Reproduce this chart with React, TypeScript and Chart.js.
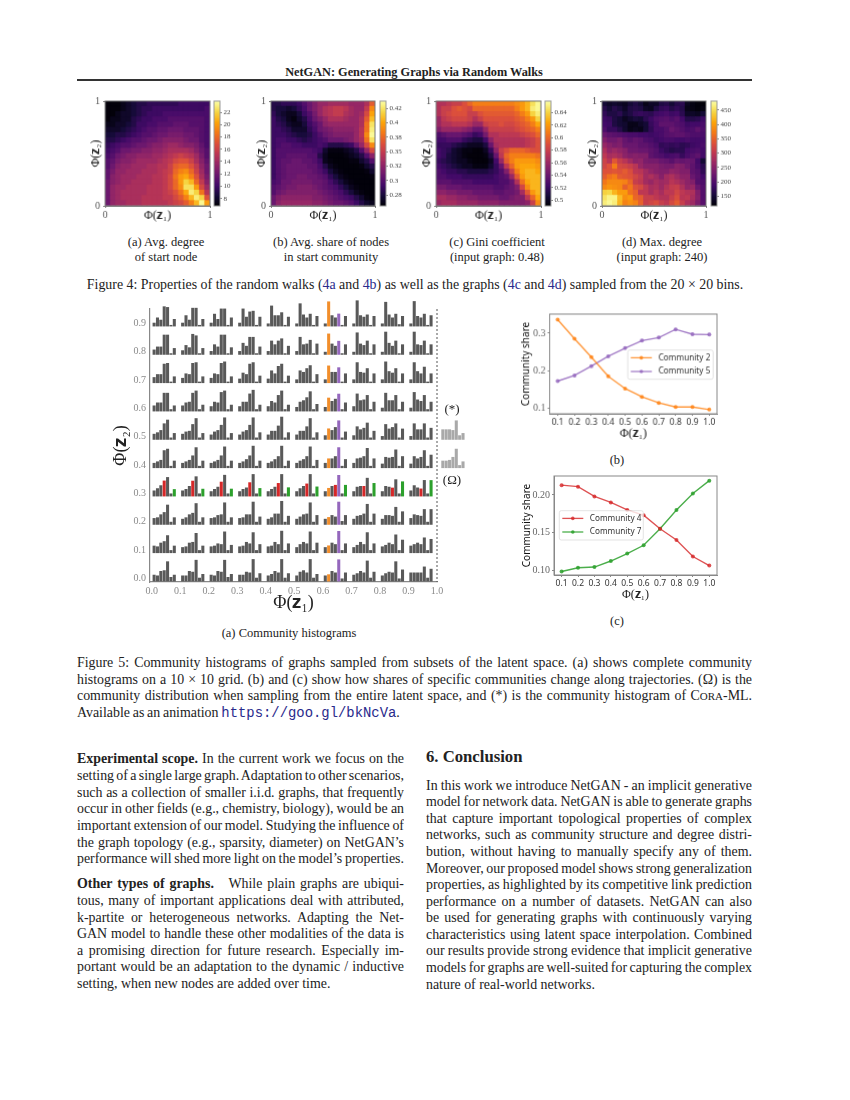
import React, { useEffect, useRef } from "react";
import { Chart, registerables } from "chart.js";

Chart.register(...registerables);

/* ---------- data ---------- */

const avgDegreeRows = [
  [7,7,7,7.5,8,8.5,9,9,9.5,9.5,9.5,9.5,9.5,9.5,10,10,10,10,10,10],
  [7,7,7,7.5,8,8.5,9,9.5,9.5,10,10,10,10,10,10,10,10,10,10,10.5],
  [7,7,7.5,8,8,8.5,9,9.5,10,10,10,10.5,10.5,10.5,10.5,10.5,10.5,10.5,10.5,10.5],
  [7,7.5,7.5,8,8,9,9.5,10,10,10.5,10.5,10.5,11,11,11,11,11,11,11,10.5],
  [7.5,7.5,8,8,8.5,9,10,10,10.5,10.5,11,11,11,11.5,11.5,11.5,11,11,11,10.5],
  [8,8,8,8.5,9,9.5,10,10.5,11,11,11.5,11.5,12,12,12,11.5,11.5,11.5,11,10.5],
  [8.5,8.5,9,9,9.5,10,10.5,11,11,11.5,12,12,12.5,12.5,12.5,12,12,11.5,11,10.5],
  [9,9,9.5,10,10.5,11,11,11.5,12,12,12.5,13,13,13,13,12.5,12,12,11,10.5],
  [9.5,10,10.5,11,11,11.5,12,12,12.5,13,13,13.5,14,14,13.5,13,13,12.5,11.5,10.5],
  [10,10.5,11,12,12,12.5,12.5,13,13,13.5,13.5,14,14.5,14.5,14.5,14.5,14,13,12,11],
  [10.5,11,12,12.5,13,13,13.5,13.5,13.5,14,14,14.5,15,15.5,16,15.5,15,14,12.5,11],
  [11,11.5,12.5,13,13,13.5,14,14,14,14,14.5,15,15.5,16.5,17,17,16,14.5,13,11.5],
  [11,12,13,13.5,13.5,14,14,14,14.5,14.5,15,15,16,17.5,18,18,17,15.5,13.5,12],
  [11.5,12.5,13.5,13.5,14,14,14,14.5,14.5,14.5,15,15.5,16,18,19,19.5,18,16,14,12],
  [11.5,13,13.5,14,14,14,14.5,14.5,14.5,15,15,15.5,16.5,18.5,20,20.5,19,17,14.5,12.5],
  [12,13,13.5,14,14,14.5,14.5,14.5,14.5,15,15,15.5,16.5,18,20,22,21,18,15.5,13],
  [12,13.5,14,14,14.5,14.5,14.5,14.5,15,15,15,15.5,16.5,18,19.5,22.5,22.5,20,16.5,14],
  [12,13.5,14,14.5,14.5,14.5,14.5,14.5,15,15,15,15.5,16,17,18.5,20.5,23,22,18.5,15],
  [12,13.5,14,14.5,14.5,14.5,14.5,15,15,15,15,15.5,15.5,16.5,17.5,19,21,23,22,17],
  [12,13.5,14,14,14.5,14.5,14.5,15,15,15,15,15,15.5,16,16.5,17.5,19,21,23.5,20],
];

const startShareRows = [
  [28,28,28.5,28.5,28.5,29,30,31,32,33,33,33.5,33.5,33.5,33.5,33,33,33,34,37],
  [28,27.5,27.5,27,27.5,28.5,29.5,31,32,33,34,34.5,35,35,34.5,33.5,33,33,35,39],
  [28.5,27.5,27,26.5,26.5,27.5,29,30,31.5,33,34,34.5,35,35,34,33.5,33,33.5,36,40],
  [29,28,27.5,26.5,26,27,28,29.5,31,32,33,34,34,34,33.5,33,33,34,37,41],
  [29,28.5,28,27,26.5,26.5,27.5,29,30,31,32.5,33,33,33,33,33,33,34,38,42.5],
  [29,29,28.5,28,27,27,27,28.5,29.5,31,31.5,32,32.5,32.5,32.5,32.5,33,34.5,38,43],
  [29,29,29,28.5,28,27.5,27.5,28,29,30,31,31.5,32,32,32,32,33,34.5,39,43.5],
  [29,29.5,29.5,29,29,28.5,28,28.5,29,29.5,30,31,31,31,31.5,32,33,34,38,42.5],
  [29,29.5,30,30,29.5,29.5,29,29,29,29.5,29,28,28,28,28.5,29,31,33,36,39],
  [29,30,30,30,30,30,30,30,29.5,29,27,26,26,26,26.5,27,28,30,33,36],
  [29,30,30,30.5,30.5,30.5,30.5,30,30,28,26.5,25.8,25.8,25.8,26,26.5,27,28,30,32.5],
  [29,30,30.5,30.5,31,31,30.5,30.5,30,29,26.5,26,25.8,25.8,25.8,26,26,27,28,30],
  [29,30,30.5,31,31,31,31,30.5,30.5,29.5,28,26.5,26,25.8,25.8,25.8,25.8,26,27,28],
  [29,30,30.5,31,31,31,31,31,30.5,30,29,27.5,26.5,26,25.8,25.8,25.8,25.8,26,27],
  [29,30,30.5,31,31,31.5,31.5,31,31,30.5,30,28.5,27.5,26.5,26,25.8,25.8,25.8,25.8,26],
  [29.5,30,31,31,31.5,31.5,31.5,31.5,31,31,30.5,29.5,28.5,27.5,26.5,26,25.8,25.8,25.8,25.8],
  [30,30.5,31,31.5,31.5,32,32,32,31.5,31,30.5,30,29.5,28.5,27.5,26.5,26,25.8,25.8,25.8],
  [30,31,31.5,32,32,32,32,32,32,31.5,31,30.5,30,29.5,28.5,27.5,26.5,26,25.8,25.8],
  [31,32,32.5,32.5,32.5,32.5,32.5,32.5,32,32,31.5,31,30.5,30,29.5,29,28,27,26,25.8],
  [31,32.5,33,33,33,33,33,33,32.5,32.5,32,31.5,31,31,30.5,30,29,28,27,26.5],
];

const giniRows = [
  [57,57,57.5,58,58,59,60,61,61,61,61,61,61,61,61,61.5,62,63,64.5,65.5],
  [57,58,58,59,59.5,59,58.5,60,60,60,60,60,60,60,60,61,62,63,65,65.5],
  [57,58,58.5,59,59,59,58,58,59,59.5,59.5,59.5,59.5,59.5,59.5,60,61,62,64,65],
  [56,57.5,58,58.5,58.5,58.5,58,57,58,59,59,59,59,59,59,59.5,60,61,62,64],
  [56,57,57,57.5,57.5,57.5,57,56,56,58,58.5,58.5,59,58.5,58.5,59,59.5,60,61,62.5],
  [55,56,56,56,56,55.5,55,54,54,56,58,58,58,58,58,58.5,59,59.5,60,61],
  [53,53.5,54,54,54,53.5,53,52,52.5,54.5,57,57,57.5,57.5,57.5,57.5,58,58.5,59,60],
  [52.5,52.5,53,53,53,52,51.5,51,51,52.5,55.5,57,57,57,57,57,57,57.5,58,59],
  [52,52,52,51.5,51,50.5,50,50,50,51,54,56.5,57,57,57,57,57,57.5,58,59],
  [52.5,52,51.5,50.5,50,49.5,49.5,49.3,49.3,50,52,55.5,58,59,60,60,60,59.5,59,59],
  [52.5,52,51,50.5,50,49.5,49.3,49.3,49.3,49.5,51,54,57.5,60,61,61,61,61,61,60.5],
  [52,51.5,51,50.5,50,50,49.5,49.3,49.3,49.3,50,52.5,56,59.5,61,62,62,62,62,61.5],
  [52.5,52,51.5,51,50.5,50,50,49.5,49.5,49.5,50.5,52,54,57.5,60,62,62.5,62.5,62.5,62],
  [53,52.5,52,52,51.5,51.5,51,51,51,51,51.5,52,53,55,58,61,62.5,63,63,62.5],
  [53,53,52.5,52.5,52.5,52,52,52,52,52,52,52.5,53,53.5,56,59.5,62,63,63,63],
  [53.5,53.5,53.5,53,53,53,53,52.5,52.5,52.5,52.5,52.5,53,53,54,57,60.5,62.5,63,63],
  [54.5,54.5,54,54,54,53.5,53.5,53.5,53.5,53.5,53.5,53,53,53.5,54,55,58.5,61.5,63,63],
  [55.5,55.5,55,55,54.5,54.5,54.5,54,54,54,54,53.5,53.5,54,54,54.5,56.5,59.5,62,63],
  [56.5,56.5,56,56,55.5,55.5,55,55,54.5,54.5,54.5,54.5,54,54,54.5,55,55,57.5,60,62.5],
  [56,56.5,56.5,56.5,56,56,56,56,55.5,55.5,55.5,55.5,55,55,55,55,55,55.5,58,61.5],
];

const maxDegreeRows = [
  [150,140,145,140,135,150,160,150,130,140,140,160,165,150,165,170,135,125,120,120],
  [165,150,165,155,140,160,165,160,140,135,160,175,180,165,175,165,130,125,120,125],
  [175,160,160,170,150,160,175,180,175,170,185,190,195,185,190,170,140,140,135,150],
  [185,180,160,150,135,145,155,150,170,185,200,205,210,200,210,190,165,165,170,185],
  [190,185,160,150,145,130,130,140,150,180,195,215,215,215,205,200,185,190,190,195],
  [200,180,180,165,145,130,135,130,150,175,195,195,205,225,215,205,195,200,215,200],
  [225,215,210,205,200,195,195,190,190,185,190,195,205,210,215,215,205,200,200,195],
  [245,230,230,240,220,210,220,215,200,195,185,190,195,195,190,190,195,190,190,190],
  [265,250,240,245,225,225,225,215,215,205,195,175,180,175,180,170,175,185,190,195],
  [285,260,270,260,250,230,230,225,225,215,205,185,175,165,170,170,190,195,200,190],
  [300,280,285,275,255,245,250,245,245,215,205,200,190,195,200,180,195,205,215,190],
  [315,295,340,310,295,275,255,260,240,235,235,225,220,210,225,220,225,220,190,150],
  [320,335,375,325,320,310,295,265,250,250,250,240,235,235,250,245,230,215,195,170],
  [335,335,340,335,345,330,300,295,275,260,250,245,245,260,255,245,245,215,205,175],
  [345,365,375,345,340,335,320,305,275,285,270,250,275,285,270,255,255,225,210,190],
  [370,385,385,385,380,355,310,300,275,265,280,270,275,295,285,270,255,245,205,200],
  [385,395,390,385,350,370,335,325,300,280,285,270,290,305,310,285,260,265,225,205],
  [440,445,420,400,400,365,350,300,300,280,295,280,300,300,320,300,290,285,245,205],
  [455,470,470,425,390,400,355,345,310,310,300,290,290,310,330,295,300,280,250,205],
  [465,475,465,420,380,390,380,350,310,320,330,310,300,325,345,310,285,270,240,210],
];

const degreeTicks = [8, 10, 12, 14, 16, 18, 20, 22];
const shareTicks = [0.275, 0.3, 0.325, 0.35, 0.375, 0.4, 0.425];
const shareTickLabels = ["0.28", "0.3", "0.32", "0.35", "0.38", "0.4", "0.42"];
const giniTicks = [0.5, 0.52, 0.54, 0.56, 0.58, 0.6, 0.62, 0.64];
const giniTickLabels = ["0.5", "0.52", "0.54", "0.56", "0.58", "0.6", "0.62", "0.64"];
const maxDegreeTicks = [150, 200, 250, 300, 350, 400, 450];

// rows from z2 = 0.9 down to z2 = 0.0; each row holds ten 7-community histograms
const histogramRowLabels = [0.9, 0.8, 0.7, 0.6, 0.5, 0.4, 0.3, 0.2, 0.1, 0.0];
const histogramRows = [
  [[.05,.12,.09,.27,.26,.02,.10],[.05,.15,.09,.25,.25,.02,.10],[.05,.17,.10,.24,.24,.02,.12],[.05,.24,.13,.20,.21,.02,.13],[.04,.28,.15,.15,.19,.02,.13],[.04,.31,.16,.12,.17,.02,.14],[.04,.336,.15,.12,.172,.02,.14],[.04,.35,.15,.13,.16,.02,.14],[.04,.33,.16,.12,.17,.03,.14],[.04,.34,.14,.12,.17,.02,.15]],
  [[.07,.11,.11,.27,.27,.02,.09],[.06,.13,.10,.28,.26,.02,.09],[.05,.14,.11,.27,.27,.02,.10],[.05,.16,.12,.24,.24,.02,.11],[.05,.19,.14,.19,.22,.02,.12],[.05,.24,.14,.15,.20,.02,.15],[.04,.285,.15,.12,.187,.02,.14],[.04,.30,.15,.13,.19,.02,.14],[.04,.31,.16,.12,.19,.02,.14],[.04,.31,.14,.13,.19,.02,.14]],
  [[.08,.12,.12,.26,.27,.02,.09],[.07,.13,.12,.27,.28,.02,.09],[.07,.13,.12,.27,.29,.02,.09],[.06,.14,.12,.26,.28,.02,.10],[.06,.17,.13,.23,.26,.02,.10],[.05,.17,.15,.20,.24,.02,.12],[.05,.236,.15,.15,.212,.02,.13],[.05,.28,.15,.14,.20,.02,.13],[.05,.29,.16,.14,.20,.02,.13],[.05,.28,.16,.13,.22,.02,.13]],
  [[.08,.12,.12,.25,.25,.03,.08],[.08,.12,.13,.25,.28,.03,.09],[.07,.13,.12,.26,.28,.03,.09],[.07,.13,.13,.24,.29,.03,.09],[.07,.14,.12,.22,.28,.03,.09],[.06,.13,.15,.19,.27,.03,.10],[.06,.185,.14,.17,.238,.03,.12],[.07,.24,.15,.16,.22,.03,.13],[.05,.25,.15,.15,.22,.03,.13],[.05,.26,.16,.14,.22,.03,.13]],
  [[.08,.10,.13,.22,.27,.03,.09],[.08,.11,.12,.21,.29,.03,.09],[.07,.11,.13,.20,.30,.03,.09],[.07,.11,.13,.20,.30,.03,.10],[.07,.12,.12,.19,.31,.03,.10],[.07,.12,.12,.18,.29,.03,.10],[.06,.152,.13,.17,.26,.03,.11],[.06,.18,.14,.16,.23,.03,.12],[.05,.21,.15,.17,.22,.03,.15],[.05,.22,.14,.14,.22,.03,.16]],
  [[.07,.09,.11,.24,.26,.03,.10],[.07,.09,.11,.17,.28,.03,.10],[.07,.09,.11,.17,.29,.03,.10],[.07,.09,.12,.17,.30,.03,.10],[.07,.09,.12,.16,.30,.03,.10],[.07,.10,.12,.16,.29,.03,.11],[.07,.13,.13,.16,.28,.03,.12],[.07,.13,.14,.16,.27,.03,.13],[.06,.15,.14,.15,.25,.03,.16],[.06,.16,.13,.15,.24,.03,.18]],
  [[.08,.11,.15,.213,.26,.04,.098],[.08,.10,.14,.211,.27,.04,.103],[.07,.10,.13,.198,.29,.04,.104],[.07,.10,.12,.19,.30,.04,.112],[.07,.10,.13,.18,.30,.04,.122],[.07,.11,.14,.173,.30,.04,.133],[.07,.114,.14,.155,.288,.04,.155],[.07,.13,.14,.14,.25,.04,.18],[.07,.14,.13,.118,.23,.04,.202],[.08,.15,.12,.106,.22,.04,.219]],
  [[.09,.10,.14,.17,.27,.04,.10],[.08,.10,.14,.16,.29,.04,.10],[.09,.10,.13,.14,.30,.04,.10],[.09,.10,.14,.14,.31,.04,.11],[.08,.10,.15,.15,.32,.04,.12],[.08,.11,.14,.15,.30,.04,.13],[.08,.103,.13,.11,.31,.05,.13],[.08,.12,.13,.15,.28,.04,.15],[.08,.13,.13,.12,.24,.04,.18],[.09,.14,.13,.12,.21,.04,.21]],
  [[.10,.09,.14,.16,.24,.04,.10],[.08,.09,.14,.15,.27,.04,.10],[.09,.10,.13,.12,.29,.04,.11],[.09,.10,.15,.13,.28,.04,.12],[.09,.10,.15,.12,.30,.04,.13],[.08,.12,.15,.13,.29,.04,.14],[.08,.103,.14,.12,.297,.04,.13],[.08,.11,.15,.12,.28,.04,.13],[.09,.11,.14,.12,.25,.04,.18],[.10,.12,.14,.12,.21,.04,.19]],
  [[.09,.08,.14,.15,.27,.06,.09],[.08,.08,.14,.13,.29,.05,.10],[.09,.08,.14,.13,.29,.06,.10],[.09,.09,.13,.12,.30,.05,.11],[.08,.10,.14,.12,.30,.05,.11],[.08,.13,.15,.12,.30,.05,.10],[.08,.096,.14,.12,.296,.04,.12],[.09,.11,.14,.12,.28,.05,.13],[.08,.11,.13,.12,.27,.04,.16],[.12,.12,.12,.12,.20,.05,.17]],
];
const coraHistogram = [.14, .14, .14, .13, .26, .06, .09];
const latentHistogram = [.10, .10, .11, .15, .26, .04, .09];
const histogramTicks = [0, 0.1, 0.2, 0.3, 0.4, 0.5, 0.6, 0.7, 0.8, 0.9, 1.0];

const trajectory = [0.1, 0.2, 0.3, 0.4, 0.5, 0.6, 0.7, 0.8, 0.9, 1.0];
const community2 = [.336, .285, .236, .185, .152, .13, .114, .103, .103, .096];
const community5 = [.172, .187, .212, .238, .26, .28, .288, .31, .297, .296];
const community4 = [.213, .211, .198, .19, .18, .173, .155, .14, .118, .106];
const community7 = [.098, .103, .104, .112, .122, .133, .155, .18, .202, .219];

/* ---------- styling ---------- */

const SERIF = '"Liberation Serif", "DejaVu Serif", serif';
const SANS = '"Noto Sans", "DejaVu Sans", sans-serif';
const INK = "#222";
const SPINE = "#777";
const INFERNO = ["#000004","#160b39","#420a68","#6a176e","#932667","#bc3754","#dd513a","#f37819","#fca50a","#f6d746","#fcffa4"];
const Z1 = "Φ(𝐳₁)";
const Z2 = "Φ(𝐳₂)";

function inferno(t: number) {
  const c = Math.max(0, Math.min(1, t)) * (INFERNO.length - 1);
  const i = Math.min(INFERNO.length - 2, Math.floor(c));
  const f = c - i;
  const p = (h: string, s: number) => parseInt(h.slice(s, s + 2), 16);
  const mix = (s: number) => Math.round(p(INFERNO[i], s) * (1 - f) + p(INFERNO[i + 1], s) * f);
  return `rgb(${mix(1)},${mix(3)},${mix(5)})`;
}

/* ---------- helpers ---------- */

const fixedSize = (size: number) => (s: any) => {
  if (s.isHorizontal()) s.height = size;
  else s.width = size;
  s.paddingLeft = s.paddingRight = s.paddingTop = s.paddingBottom = 0;
};
const fixedTicks = (values: number[]) => (s: any) => {
  s.ticks = values.map((value) => ({ value }));
};
const frame = (color: string) => ({
  id: "frame",
  afterDatasetsDraw(chart: any) {
    const { left, top, width, height } = chart.chartArea;
    const ctx = chart.ctx;
    ctx.save();
    ctx.strokeStyle = color;
    ctx.lineWidth = 1;
    ctx.strokeRect(left, top, width, height);
    ctx.restore();
  },
});

type Rect = { l: number; t: number; r: number; b: number };
const PAD = 8;

function Panel({ area, margin, build }: { area: Rect; margin: Rect; build: () => any }) {
  const ref = useRef<HTMLCanvasElement>(null);
  const left = area.l - margin.l - PAD;
  const top = area.t - margin.t - PAD;
  const width = area.r - area.l + margin.l + margin.r + 2 * PAD;
  const height = area.b - area.t + margin.t + margin.b + 2 * PAD;
  useEffect(() => {
    const cfg = build();
    cfg.options = {
      animation: false,
      responsive: false,
      maintainAspectRatio: false,
      events: [],
      ...cfg.options,
      layout: {
        padding: {
          left: PAD + (cfg.noLeftAxis ? margin.l : 0),
          right: PAD + margin.r * (cfg.hasRightAxis ? 0 : 1),
          top: PAD + margin.t,
          bottom: PAD + (cfg.noBottomAxis ? margin.b : 0),
        },
      },
    };
    const chart = new Chart(ref.current as any, cfg);
    return () => chart.destroy();
  }, []);
  return (
    <canvas
      ref={ref}
      width={width}
      height={height}
      style={{ position: "absolute", left, top, width, height }}
    />
  );
}

function heatmapConfig(rows: number[][], vmin: number, vmax: number, area: Rect, bottom: number, leftM: number) {
  const cell = (area.r - area.l) / rows[0].length;
  const n = rows.length;
  const data: any[] = [];
  const colors: string[] = [];
  rows.forEach((row, r) =>
    row.forEach((v, c) => {
      data.push({ x: (c + 0.5) / row.length, y: [1 - (r + 1) / n, 1 - r / n] });
      colors.push(inferno((v - vmin) / (vmax - vmin)));
    })
  );
  const tick = { color: "#555", font: { family: SERIF, size: 10 }, maxRotation: 0, autoSkip: false };
  const title = (text: string) => ({
    display: true,
    text,
    color: INK,
    padding: 0,
    font: { family: SERIF, size: 12, lineHeight: 1 },
  });
  return {
    type: "bar",
    plugins: [frame(SPINE)],
    data: { datasets: [{ data, backgroundColor: colors, barThickness: cell, borderWidth: 0, inflateAmount: 0.4 }] },
    options: {
      plugins: { legend: { display: false }, tooltip: { enabled: false } },
      scales: {
        x: {
          type: "linear", offset: false, min: 0, max: 1,
          grid: { drawOnChartArea: false, drawTicks: true, tickLength: 2, color: SPINE, offset: false },
          border: { color: SPINE },
          ticks: { ...tick, padding: 1, callback: (v: number) => String(v) },
          afterBuildTicks: fixedTicks([0, 1]),
          afterFit: fixedSize(bottom),
          title: title(Z1),
        },
        y: {
          min: 0, max: 1,
          grid: { drawOnChartArea: false, drawTicks: true, tickLength: 2, color: SPINE },
          border: { color: SPINE },
          ticks: { ...tick, padding: 3, callback: (v: number) => String(v) },
          afterBuildTicks: fixedTicks([0, 1]),
          afterFit: fixedSize(leftM),
          title: title(Z2),
        },
      },
    },
  };
}

function colorbarConfig(vmin: number, vmax: number, ticks: number[], labels: string[] | null, area: Rect, right: number) {
  const steps = 128;
  const data: any[] = [];
  const colors: string[] = [];
  for (let i = 0; i < steps; i++) {
    data.push({ x: 0.5, y: [vmin + ((vmax - vmin) * i) / steps, vmin + ((vmax - vmin) * (i + 1)) / steps] });
    colors.push(inferno((i + 0.5) / steps));
  }
  return {
    type: "bar",
    hasRightAxis: true,
    noLeftAxis: true,
    noBottomAxis: true,
    plugins: [frame("#999")],
    data: { datasets: [{ data, backgroundColor: colors, barThickness: area.r - area.l, borderWidth: 0, inflateAmount: 0.4 }] },
    options: {
      plugins: { legend: { display: false }, tooltip: { enabled: false } },
      scales: {
        x: { type: "linear", display: false, offset: false, min: 0, max: 1, grid: { offset: false } },
        y: {
          position: "right",
          min: vmin, max: vmax,
          grid: { drawOnChartArea: false, drawTicks: true, tickLength: 2, color: "#888" },
          border: { display: false },
          ticks: {
            color: "#444",
            padding: 1.5,
            font: { family: SERIF, size: 7 },
            callback: (v: number) => {
              const i = ticks.findIndex((t) => Math.abs(t - v) < 1e-6);
              return labels ? labels[i] : String(v);
            },
          },
          afterBuildTicks: fixedTicks(ticks),
          afterFit: fixedSize(right),
        },
      },
    },
  };
}

/* community histograms */
const BAR_STEP = 0.0118;
const BAR_START = 0.0025;
const SIDE_OFFSET = 1.012;
const SHARE_TO_AXIS = 0.2626;
const BASE_DROP = 0.011;
const ORANGE = "#f28e2b";
const PURPLE = "#9467bd";
const RED = "#d62728";
const GREEN = "#2ca02c";
const GRAY = "#595959";
const LIGHT = "#a9a9a9";

function histogramConfig() {
  const data: any[] = [];
  const colors: string[] = [];
  const add = (cellX: number, rowY: number, values: number[], colorOf: (k: number) => string) => {
    values.forEach((v, k) => {
      const base = rowY - BASE_DROP;
      data.push({ x: cellX + BAR_START + (k + 0.5) * BAR_STEP, y: [base, base + v * SHARE_TO_AXIS] });
      colors.push(colorOf(k));
    });
  };
  histogramRows.forEach((row, r) =>
    row.forEach((cell, c) =>
      add(c / 10, histogramRowLabels[r], cell, (k) => {
        if (c === 6 && k === 1) return ORANGE;
        if (c === 6 && k === 4) return PURPLE;
        if (histogramRowLabels[r] === 0.3 && k === 3) return RED;
        if (histogramRowLabels[r] === 0.3 && k === 6) return GREEN;
        return GRAY;
      })
    )
  );
  add(SIDE_OFFSET, 0.5, coraHistogram, () => LIGHT);
  add(SIDE_OFFSET, 0.4, latentHistogram, () => LIGHT);
  const dashed = {
    id: "dashedEdge",
    afterDatasetsDraw(chart: any) {
      const { top, bottom, right } = chart.chartArea;
      const ctx = chart.ctx;
      ctx.save();
      ctx.strokeStyle = "#555";
      ctx.setLineDash([2, 2]);
      ctx.beginPath();
      ctx.moveTo(right, top);
      ctx.lineTo(right, bottom);
      ctx.stroke();
      ctx.restore();
    },
  };
  const tick = { color: "#8a8a8a", font: { family: SERIF, size: 10 }, maxRotation: 0, autoSkip: false, callback: (v: number) => Number(v).toFixed(1) };
  const title = (text: string) => ({
    display: true,
    text,
    color: INK,
    padding: 0,
    font: { family: SERIF, size: 18, lineHeight: 1 },
  });
  return {
    type: "bar",
    plugins: [dashed],
    data: { datasets: [{ data, backgroundColor: colors, barThickness: 3.05, inflateAmount: 0, borderWidth: 0, clip: false }] },
    options: {
      plugins: { legend: { display: false }, tooltip: { enabled: false } },
      scales: {
        x: {
          type: "linear", offset: false, min: -0.006, max: 1.0,
          grid: { drawOnChartArea: false, drawTicks: false, offset: false },
          border: { color: "#888", width: 1.2 },
          ticks: { ...tick, padding: 3 },
          afterBuildTicks: fixedTicks(histogramTicks),
          afterFit: fixedSize(30),
          title: title(Z1),
        },
        y: {
          min: -0.013, max: 0.9505,
          grid: { drawOnChartArea: false, drawTicks: false },
          border: { color: "#888", width: 1.2 },
          ticks: { ...tick, padding: 4 },
          afterBuildTicks: fixedTicks(histogramRowLabels),
          afterFit: fixedSize(38),
          title: title(Z2),
        },
      },
    },
  };
}

/* trajectory line charts */
function floatingLegend(box: { x: number; y: number; w: number; h: number }) {
  return {
    id: "floatingLegend",
    afterDatasetsDraw(chart: any) {
      const { left, top } = chart.chartArea;
      const ctx = chart.ctx;
      const X = left + box.x;
      const Y = top + box.y;
      ctx.save();
      ctx.beginPath();
      ctx.roundRect(X, Y, box.w, box.h, 2);
      ctx.fillStyle = "rgba(255,255,255,0.8)";
      ctx.fill();
      ctx.strokeStyle = "#dcdcdc";
      ctx.lineWidth = 0.8;
      ctx.stroke();
      chart.data.datasets.forEach((ds: any, i: number) => {
        const y = Y + 7.7 + i * 13.6;
        ctx.strokeStyle = ds.borderColor;
        ctx.lineWidth = 1.3;
        ctx.beginPath();
        ctx.moveTo(X + 3, y);
        ctx.lineTo(X + 24, y);
        ctx.stroke();
        ctx.fillStyle = ds.borderColor;
        ctx.beginPath();
        ctx.arc(X + 13.5, y, 1.8, 0, Math.PI * 2);
        ctx.fill();
        ctx.fillStyle = "#333";
        ctx.font = `8.2px ${SANS}`;
        ctx.textBaseline = "middle";
        ctx.textAlign = "left";
        ctx.fillText(ds.label, X + 30.5, y);
      });
      ctx.restore();
    },
  };
}

function lineConfig(opts: {
  series: { label: string; values: number[]; color: string }[];
  xMin: number; xMax: number; yMin: number; yMax: number;
  yTicks: number[]; yDigits: number; legend: { x: number; y: number; w: number; h: number };
  bottom: number; left: number;
}) {
  const tick = { maxRotation: 0, autoSkip: false };
  return {
    type: "line",
    plugins: [frame("#888"), floatingLegend(opts.legend)],
    data: {
      datasets: opts.series.map((s) => ({
        label: s.label,
        data: s.values.map((y, i) => ({ x: trajectory[i], y })),
        borderColor: s.color,
        backgroundColor: s.color,
        borderWidth: 1.4,
        pointRadius: 2,
        pointBorderWidth: 0,
        tension: 0,
      })),
    },
    options: {
      plugins: { legend: { display: false }, tooltip: { enabled: false } },
      scales: {
        x: {
          type: "linear", min: opts.xMin, max: opts.xMax,
          grid: { drawOnChartArea: false, drawTicks: true, tickLength: 2, color: "#888" },
          border: { color: "#888" },
          ticks: { ...tick, color: "#333", padding: 1.5, font: { family: SANS, size: 8.5 }, callback: (v: number) => Number(v).toFixed(1) },
          afterBuildTicks: fixedTicks(trajectory),
          afterFit: fixedSize(opts.bottom),
          title: { display: true, text: Z1, color: INK, padding: 0, font: { family: SERIF, size: 12, lineHeight: 1 } },
        },
        y: {
          min: opts.yMin, max: opts.yMax,
          grid: { drawOnChartArea: false, drawTicks: true, tickLength: 2, color: "#888" },
          border: { color: "#888" },
          ticks: { ...tick, color: "#666", padding: 2, font: { family: SERIF, size: 10 }, callback: (v: number) => Number(v).toFixed(opts.yDigits) },
          afterBuildTicks: fixedTicks(opts.yTicks),
          afterFit: fixedSize(opts.left),
          title: { display: true, text: "Community share", color: "#111", padding: 0, font: { family: SANS, size: 10, lineHeight: 1 } },
        },
      },
    },
  };
}

/* ---------- text ---------- */

const BODY = 13.9;
function Line({ x, y, w, size = BODY, align, bold, color = INK, children }: any) {
  const style: React.CSSProperties = {
    position: "absolute",
    left: x,
    top: y - size * 0.6,
    height: size * 1.2,
    lineHeight: `${size * 1.2}px`,
    fontFamily: SERIF,
    fontSize: size,
    fontWeight: bold ? "bold" : "normal",
    color,
    whiteSpace: align === "justify" ? "normal" : "nowrap",
  };
  if (align === "justify") {
    style.width = w;
    style.textAlign = "justify";
    style.textAlignLast = "justify";
    style.wordSpacing = "-1.4px";
    style.overflow = "hidden";
  } else if (align === "center") {
    style.width = w;
    style.textAlign = "center";
  }
  return <div style={style}>{children}</div>;
}

const LINK = "#2a2a8c";
const Ref = ({ children }: any) => <span style={{ color: LINK }}>{children}</span>;

const leftColumn: [number, any][] = [
  [759, <><b>Experimental scope.</b> In the current work we focus on the</>],
  [776, "setting of a single large graph. Adaptation to other scenarios,"],
  [793, "such as a collection of smaller i.i.d. graphs, that frequently"],
  [809, "occur in other fields (e.g., chemistry, biology), would be an"],
  [826, "important extension of our model. Studying the influence of"],
  [843, "the graph topology (e.g., sparsity, diameter) on NetGAN’s"],
  [859, "performance will shed more light on the model’s properties."],
  [884, <><b>Other types of graphs.</b>&nbsp;&nbsp; While plain graphs are ubiqui-</>],
  [901, "tous, many of important applications deal with attributed,"],
  [918, "k-partite or heterogeneous networks. Adapting the Net-"],
  [934, "GAN model to handle these other modalities of the data is"],
  [951, "a promising direction for future research. Especially im-"],
  [967, "portant would be an adaptation to the dynamic / inductive"],
];
const rightColumn: [number, string][] = [
  [786, "In this work we introduce NetGAN - an implicit generative"],
  [802, "model for network data. NetGAN is able to generate graphs"],
  [819, "that capture important topological properties of complex"],
  [835, "networks, such as community structure and degree distri-"],
  [852, "bution, without having to manually specify any of them."],
  [869, "Moreover, our proposed model shows strong generalization"],
  [885, "properties, as highlighted by its competitive link prediction"],
  [902, "performance on a number of datasets. NetGAN can also"],
  [918, "be used for generating graphs with continuously varying"],
  [935, "characteristics using latent space interpolation. Combined"],
  [951, "our results provide strong evidence that implicit generative"],
  [968, "models for graphs are well-suited for capturing the complex"],
];
const subCaptions: [number, string, string][] = [
  [166, "(a) Avg. degree", "of start node"],
  [331, "(b) Avg. share of nodes", "in start community"],
  [497, "(c) Gini coefficient", "(input graph: 0.48)"],
  [662, "(d) Max. degree", "(input graph: 240)"],
];

/* ---------- page ---------- */

const heatA: Rect = { l: 105, t: 101, r: 209.5, b: 205.7 };
const heatB: Rect = { l: 270.5, t: 101, r: 375, b: 205.7 };
const heatC: Rect = { l: 436, t: 101, r: 540.5, b: 205.7 };
const heatD: Rect = { l: 601.5, t: 101, r: 706, b: 205.7 };
const heatMargin: Rect = { l: 15, t: 0, r: 0, b: 16 };
const barA: Rect = { l: 214, t: 101, r: 220, b: 205.7 };
const barB: Rect = { l: 379.5, t: 101, r: 385.5, b: 205.7 };
const barC: Rect = { l: 545.3, t: 101, r: 551.3, b: 205.7 };
const barD: Rect = { l: 710.5, t: 101, r: 716.5, b: 205.7 };
const barMargin: Rect = { l: 0, t: 0, r: 20, b: 0 };
const histArea: Rect = { l: 149.5, t: 309, r: 437, b: 582 };
const histMargin: Rect = { l: 38, t: 10, r: 40, b: 30 };
const lineB: Rect = { l: 549.3, t: 314.3, r: 716.7, b: 414 };
const lineC: Rect = { l: 553.7, t: 476, r: 716.7, b: 575.3 };

const shareRowsFraction = startShareRows.map((r) => r.map((v) => v / 100));
const giniRowsFraction = giniRows.map((r) => r.map((v) => v / 100));

export default function App() {
  return (
    <div style={{ position: "absolute", left: 0, top: 0, width: 850, height: 1100, background: "#fff", overflow: "hidden", filter: "blur(0.35px)" }}>
      <Line x={0} y={72} w={828} size={12.3} align="center" bold>NetGAN: Generating Graphs via Random Walks</Line>
      <div style={{ position: "absolute", left: 77, top: 79, width: 675, height: 1.6, background: "#333" }} />

      <Panel area={heatA} margin={heatMargin} build={() => heatmapConfig(avgDegreeRows, 6.8, 23.8, heatA, 16, 15)} />
      <Panel area={barA} margin={barMargin} build={() => colorbarConfig(6.8, 23.8, degreeTicks, null, barA, 20)} />
      <Panel area={heatB} margin={heatMargin} build={() => heatmapConfig(shareRowsFraction, 0.256, 0.4377, heatB, 16, 15)} />
      <Panel area={barB} margin={barMargin} build={() => colorbarConfig(0.256, 0.4377, shareTicks, shareTickLabels, barB, 20)} />
      <Panel area={heatC} margin={heatMargin} build={() => heatmapConfig(giniRowsFraction, 0.491, 0.658, heatC, 16, 15)} />
      <Panel area={barC} margin={barMargin} build={() => colorbarConfig(0.491, 0.658, giniTicks, giniTickLabels, barC, 20)} />
      <Panel area={heatD} margin={heatMargin} build={() => heatmapConfig(maxDegreeRows, 116, 481, heatD, 16, 15)} />
      <Panel area={barD} margin={barMargin} build={() => colorbarConfig(116, 481, maxDegreeTicks, null, barD, 20)} />

      {subCaptions.map(([cx, a, b]) => (
        <React.Fragment key={a}>
          <Line x={cx - 80} y={242} w={160} size={12.5} align="center">{a}</Line>
          <Line x={cx - 80} y={257} w={160} size={12.5} align="center">{b}</Line>
        </React.Fragment>
      ))}

      <Line x={60} y={285} w={710} align="center">
        Figure 4: Properties of the random walks (<Ref>4a</Ref> and <Ref>4b</Ref>) as well as the graphs (<Ref>4c</Ref> and <Ref>4d</Ref>) sampled from the 20 × 20 bins.
      </Line>

      <Panel area={histArea} margin={histMargin} build={histogramConfig} />
      <Line x={432} y={409} w={40} size={13} align="center">(*)</Line>
      <Line x={432} y={480} w={40} size={13} align="center">(Ω)</Line>
      <Line x={189} y={633} w={200} size={12.5} align="center">(a) Community histograms</Line>

      <Panel
        area={lineB}
        margin={{ l: 28.5, t: 0, r: 0, b: 26 }}
        build={() =>
          lineConfig({
            series: [
              { label: "Community 2", values: community2, color: "rgba(255,127,14,0.8)" },
              { label: "Community 5", values: community5, color: "rgba(148,103,189,0.85)" },
            ],
            xMin: 0.0525, xMax: 1.0457, yMin: 0.0848, yMax: 0.3507,
            yTicks: [0.1, 0.2, 0.3], yDigits: 1,
            legend: { x: 77.7, y: 35.7, w: 85, h: 29 },
            bottom: 26, left: 28.5,
          })
        }
      />
      <Line x={597} y={460} w={40} size={12.5} align="center">(b)</Line>

      <Panel
        area={lineC}
        margin={{ l: 32, t: 0, r: 0, b: 26 }}
        build={() =>
          lineConfig({
            series: [
              { label: "Community 4", values: community4, color: "rgba(214,39,40,0.8)" },
              { label: "Community 7", values: community7, color: "rgba(44,160,44,0.85)" },
            ],
            xMin: 0.0537, xMax: 1.047, yMin: 0.0934, yMax: 0.2252,
            yTicks: [0.1, 0.15, 0.2], yDigits: 2,
            legend: { x: 5.3, y: 34.7, w: 84, h: 29.3 },
            bottom: 26, left: 32,
          })
        }
      />
      <Line x={597} y={621} w={40} size={12.5} align="center">(c)</Line>

      <Line x={77} y={663} w={675} align="justify">Figure 5: Community histograms of graphs sampled from subsets of the latent space. (a) shows complete community</Line>
      <Line x={77} y={680} w={675} align="justify">histograms on a 10 × 10 grid. (b) and (c) show how shares of specific communities change along trajectories. (Ω) is the</Line>
      <Line x={77} y={696} w={675} align="justify">
        community distribution when sampling from the entire latent space, and (*) is the community histogram of C<span style={{ fontSize: 11 }}>ORA</span>-ML.
      </Line>
      <Line x={77} y={713}>
        <span style={{ wordSpacing: "-0.7px" }}>Available as an animation </span><span style={{ fontFamily: '"Liberation Mono", monospace', fontSize: 13.9, color: LINK }}>https://goo.gl/bkNcVa</span>.
      </Line>

      {leftColumn.map(([y, t]) => (
        <Line key={y} x={77} y={y} w={327} align="justify">{t}</Line>
      ))}
      <Line x={77} y={984}>setting, when new nodes are added over time.</Line>

      <Line x={426} y={757} size={16.7} bold>6. Conclusion</Line>
      {rightColumn.map(([y, t]) => (
        <Line key={y} x={426} y={y} w={326} align="justify">{t}</Line>
      ))}
      <Line x={426} y={985}>nature of real-world networks.</Line>
    </div>
  );
}
